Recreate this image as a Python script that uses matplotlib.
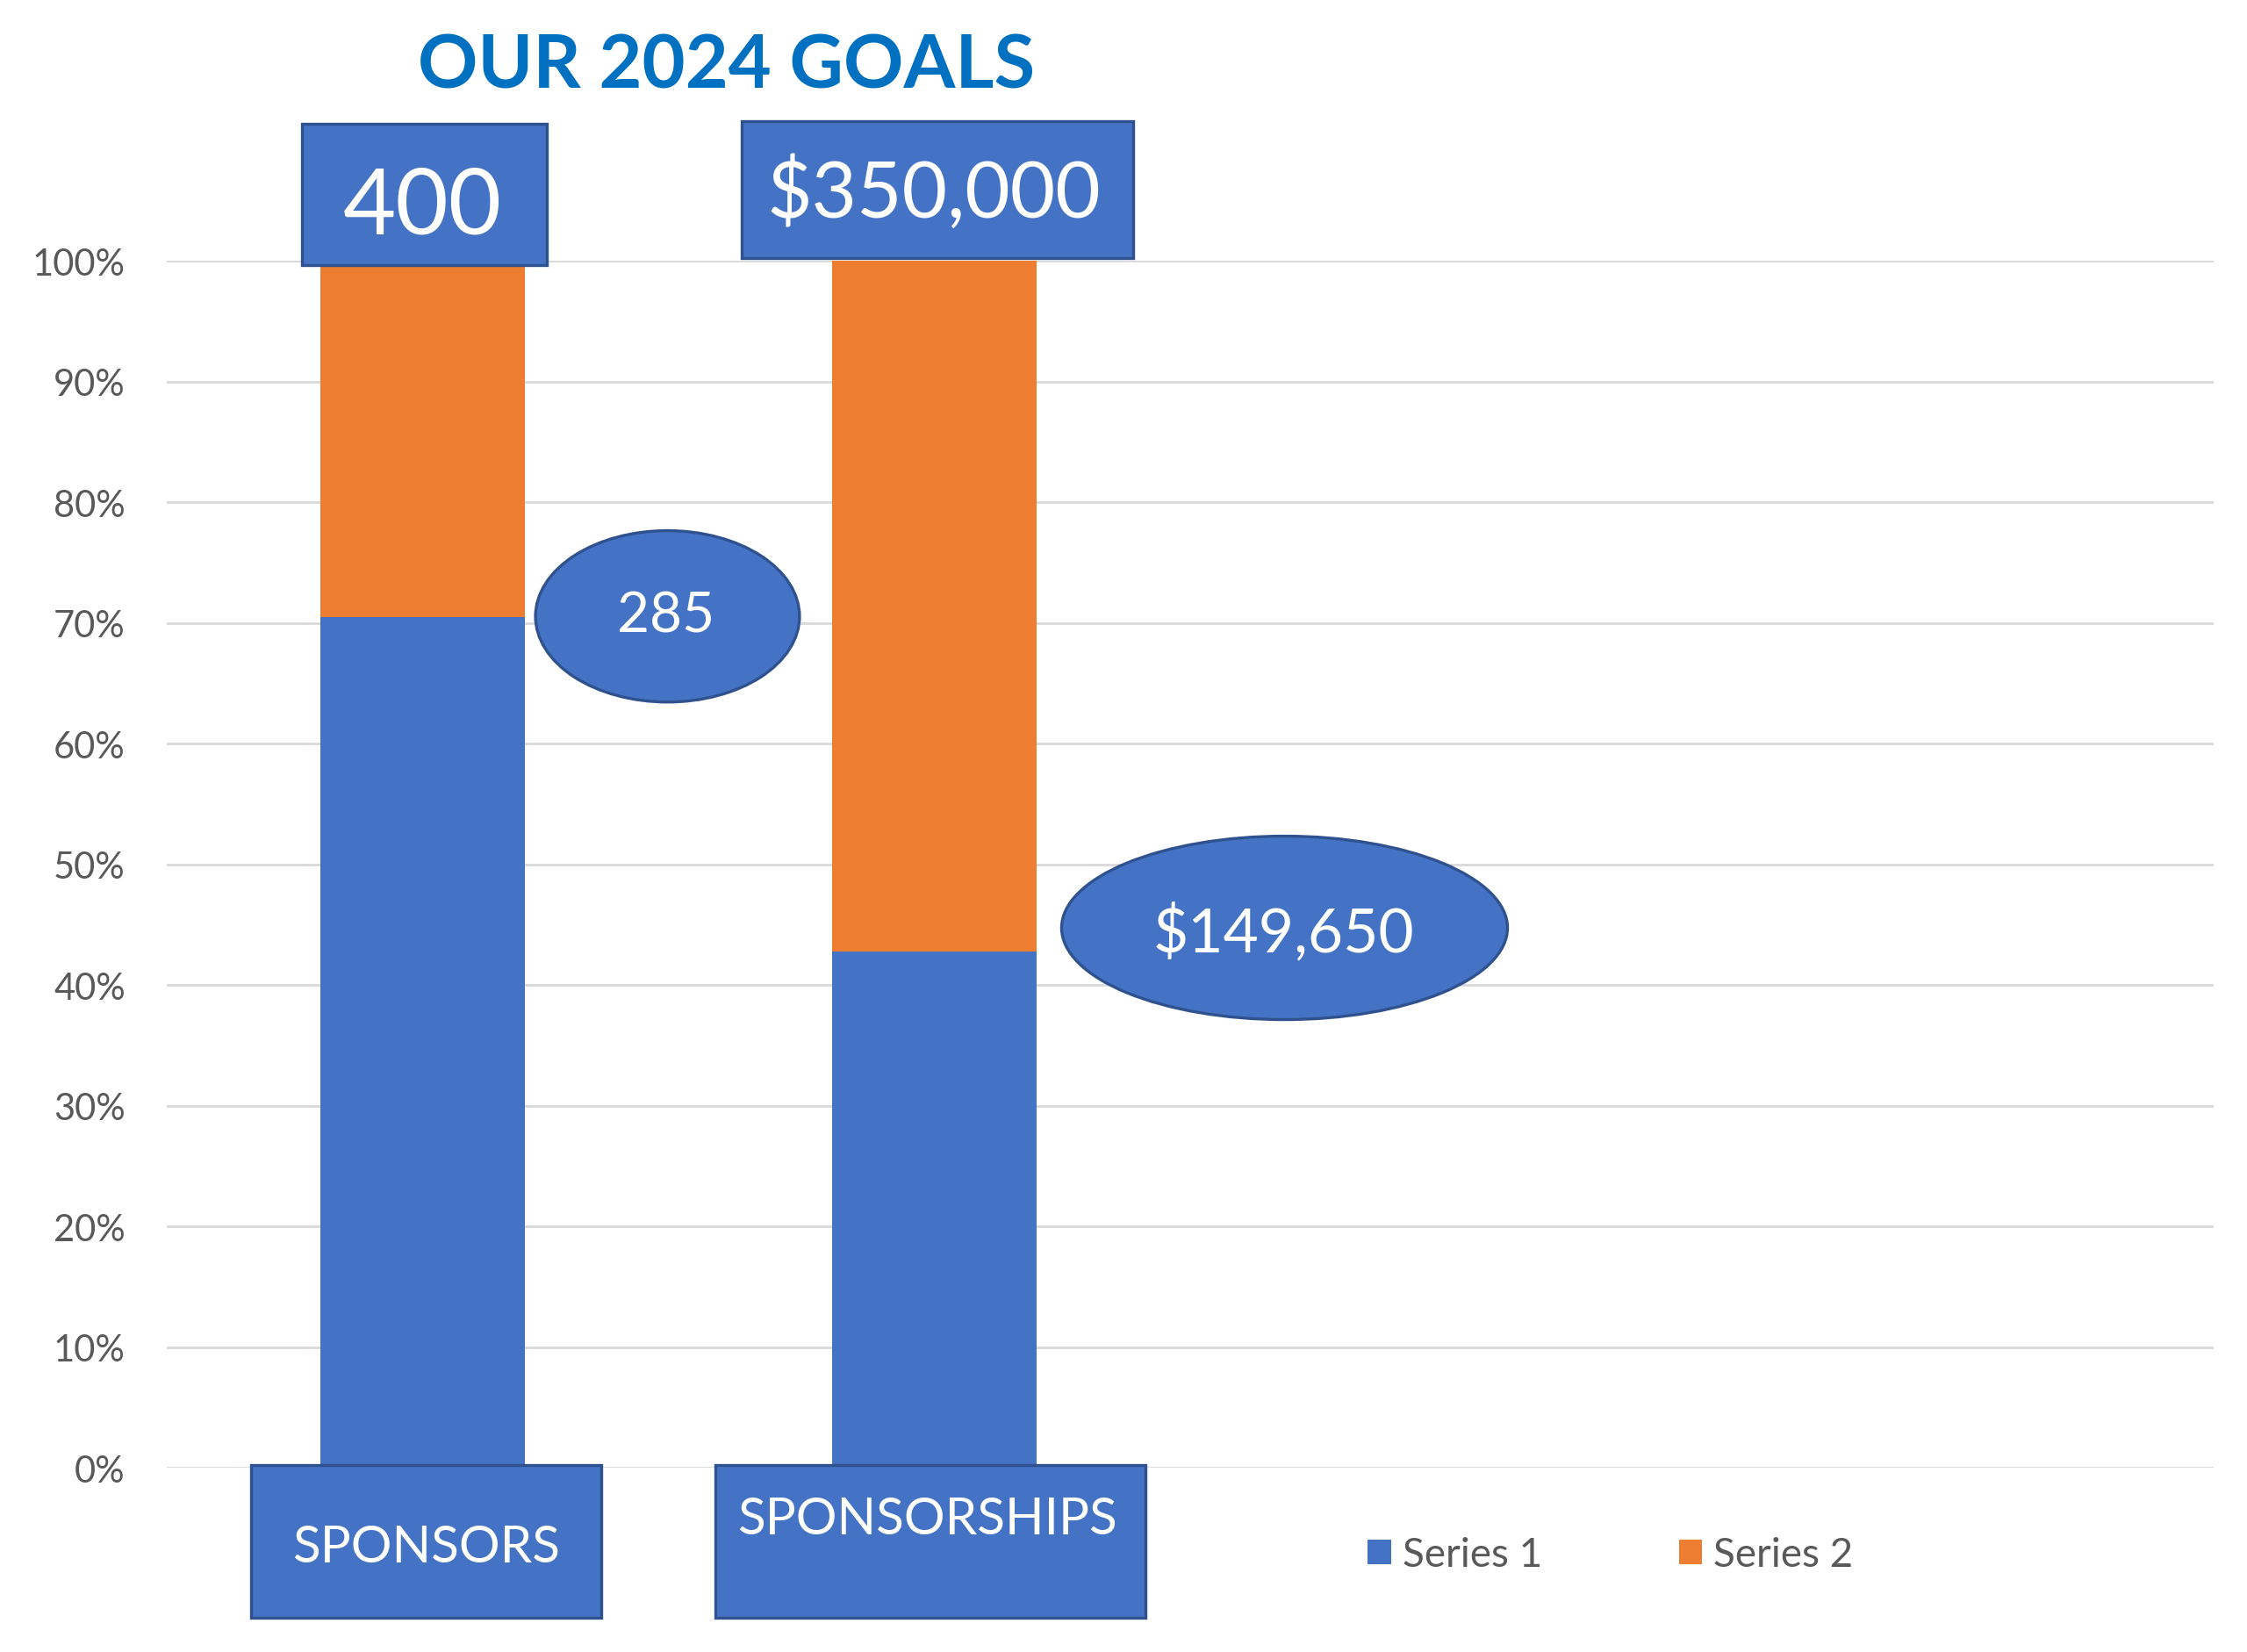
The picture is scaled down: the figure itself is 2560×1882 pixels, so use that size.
import matplotlib
matplotlib.use("Agg")
import matplotlib.pyplot as plt
from matplotlib.patches import Rectangle, Ellipse
import numpy as np

# ---- data ----
categories = ["SPONSORS", "SPONSORSHIPS", "", ""]
series1 = [70.5, 42.8, 0, 0]      # percent achieved
series2 = [29.5, 57.2, 0, 0]      # percent remaining
series_names = ["Series 1", "Series 2"]
goal_labels = ["400", "$350,000"]
achieved_labels = ["285", "$149,650"]
ytick_vals = [0, 10, 20, 30, 40, 50, 60, 70, 80, 90, 100]
title = "OUR 2024 GOALS"

BLUE = "#4472C4"
ORANGE = "#ED7D31"
EDGE = "#2F528F"
TITLE_C = "#0070C0"
GRAY = "#595959"
GRID = "#D9D9D9"

plt.rcParams['font.family'] = ['Lato', 'DejaVu Sans']

fig = plt.figure(figsize=(25.6, 18.83), dpi=100)
ax = fig.add_axes([0.0742, 0.11126, 0.91096, 0.73022])

x = np.arange(len(categories))
s1 = np.array(series1) / 100.0
s2 = np.array(series2) / 100.0
tot = s1 + s2
tot[tot == 0] = 1
p1 = s1 / tot
p2 = s2 / tot

ax.bar(x, p1, width=0.4, color=BLUE, label=series_names[0], zorder=2)
ax.bar(x, p2, width=0.4, bottom=p1, color=ORANGE, label=series_names[1], zorder=2)

ax.set_xlim(-0.5, 3.5)
ax.set_ylim(0, 1)
ax.set_yticks([v / 100 for v in ytick_vals])
ax.set_yticklabels([f"{v}%" for v in ytick_vals], fontsize=30, color=GRAY)
ax.tick_params(axis='y', length=0, pad=34)
ax.set_xticks([])
for sp in ax.spines.values():
    sp.set_visible(False)
ax.yaxis.grid(True, color=GRID, linewidth=2.0, zorder=0)
ax.set_axisbelow(True)

# title
fig.text(828 / 2560, 1 - 100.5 / 1883, title, ha='center', va='baseline',
         fontsize=61, fontweight='bold', color=TITLE_C)

# goal boxes above bars
goal_boxes = [(-0.2358, 0.9967, 0.4785, 0.1171), (0.6235, 1.0029, 0.765, 0.1131)]
goal_text = [(0.0, 1.0236, 75), (0.999, 1.0367, 64)]
for (bx, by, bw, bh), (tx, ty, fs), lab in zip(goal_boxes, goal_text, goal_labels):
    ax.add_patch(Rectangle((bx, by), bw, bh, facecolor=BLUE, edgecolor=EDGE,
                           linewidth=2.4, clip_on=False, zorder=5))
    ax.text(tx, ty, lab, ha='center', va='baseline', fontsize=fs, color='white',
            zorder=6, clip_on=False)

# achieved ellipses
ells = [(0.4786, 0.7057, 0.516, 0.142), (1.6844, 0.4476, 0.8714, 0.152)]
ell_text = [(0.476, 0.6932, 46), (1.6835, 0.428, 50)]
for (ex, ey, ew, eh), (tx, ty, fs), lab in zip(ells, ell_text, achieved_labels):
    ax.add_patch(Ellipse((ex, ey), ew, eh, facecolor=BLUE, edgecolor=EDGE,
                         linewidth=2.4, clip_on=False, zorder=5))
    ax.text(tx, ty, lab, ha='center', va='baseline', fontsize=fs, color='white',
            zorder=6, clip_on=False)

# category boxes below bars
cat_boxes = [(-0.3353, -0.124, 0.6843, 0.1265), (0.572, -0.124, 0.8405, 0.1265)]
cat_text = [(0.0077, -0.0775), (0.9854, -0.0542)]
for (bx, by, bw, bh), (tx, ty), lab in zip(cat_boxes, cat_text, categories[:2]):
    ax.add_patch(Rectangle((bx, by), bw, bh, facecolor=BLUE, edgecolor=EDGE,
                           linewidth=2.4, clip_on=False, zorder=5))
    ax.text(tx, ty, lab, ha='center', va='baseline', fontsize=42, color='white',
            zorder=6, clip_on=False)

leg = ax.legend(loc='center', bbox_to_anchor=(0.7054, -0.0716), ncol=2,
                frameon=False, fontsize=33, handlelength=0.57, handleheight=0.57,
                handletextpad=0.3, columnspacing=3.38)
for t in leg.get_texts():
    t.set_color(GRAY)

fig.savefig("out.png", dpi=100, facecolor='white')
